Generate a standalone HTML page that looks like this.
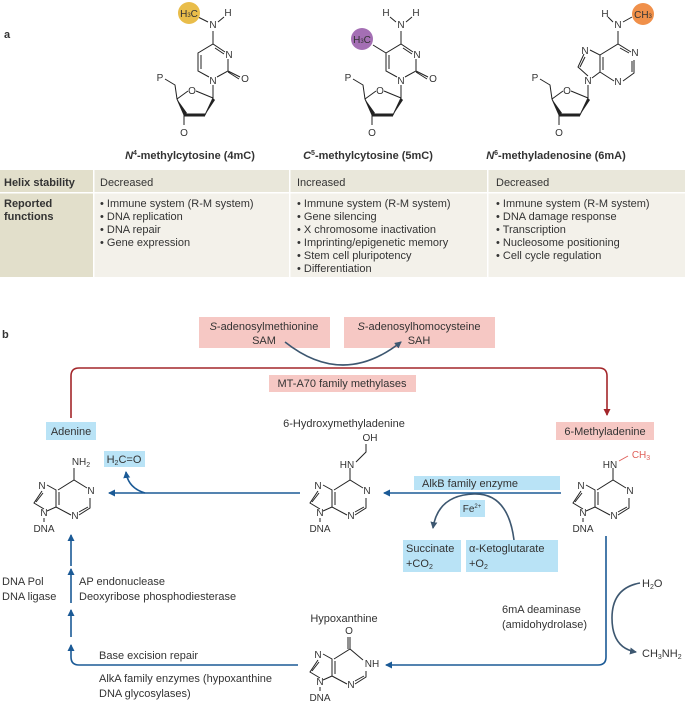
<!DOCTYPE html>
<html><head><meta charset="utf-8"><style>
html,body{margin:0;padding:0;background:#fff}
svg{display:block;font-family:"Liberation Sans",sans-serif}
.t{font-size:11px;fill:#333}
.s{font-size:10px;fill:#333}
.b{font-weight:bold}
.m{stroke:#222;stroke-width:1;fill:none}
</style></head><body>
<svg width="685" height="707" viewBox="0 0 685 707" xmlns="http://www.w3.org/2000/svg">
<defs>
<marker id="ab" markerWidth="8" markerHeight="8" refX="6" refY="4" orient="auto" markerUnits="userSpaceOnUse"><path d="M0,0.5 L7,4 L0,7.5 Z" fill="#1b5a96"/></marker>
<marker id="ar" markerWidth="8" markerHeight="8" refX="6" refY="4" orient="auto" markerUnits="userSpaceOnUse"><path d="M0,0.5 L7,4 L0,7.5 Z" fill="#a3262a"/></marker>
<marker id="ad" markerWidth="8" markerHeight="8" refX="6" refY="4" orient="auto" markerUnits="userSpaceOnUse"><path d="M0,0.5 L7,4 L0,7.5 Z" fill="#3d5770"/></marker>
<g id="sugar">
<path class="m" d="M0,0 L-17,-7 M-25,-7 L-36,1 L-29,17 L-8,17 L0,0 M-36,1 L-38,-13 L-48,-19 M-29,17 L-29,27"/>
<path d="M-36,1 L-29,17 L-26,15 Z M-8,17 L0,0 L2,2 Z" fill="#222"/>
<path d="M-29,17 L-8,17" stroke="#222" stroke-width="3"/>
<text x="-21" y="-4" class="s" text-anchor="middle">O</text>
<text x="-53" y="-17" class="s" text-anchor="middle">P</text>
<text x="-29" y="38" class="s" text-anchor="middle">O</text>
</g>
<g id="pur">
<path class="m" d="M0,-4 L-10,-10 L-2,-22 M3,-28 L12,-23 L12,-6 L3,-2 M12,-6 L27,2 M35,2 L46,-5 L46,-15 M43,-25 L30,-33 L14,-23 M30,-33 L30,-45 M0,5 L0,9 M-8,-11 L-1,-20 M15,-21 L15,-8 M35,-1 L44,-6"/>
<text x="0" y="3" class="s" text-anchor="middle">N</text>
<text x="-2" y="-24" class="s" text-anchor="middle">N</text>
<text x="31" y="6" class="s" text-anchor="middle">N</text>
<text x="47" y="-19" class="s" text-anchor="middle">N</text>
<text x="0" y="19" class="s" text-anchor="middle" font-size="9">DNA</text>
</g>
</defs>

<text x="4" y="38" class="t b" font-size="12">a</text>

<!-- 4mC -->
<g transform="translate(213,80)">
<path class="m" d="M4,-3 L15,-9 L15,-21 M12,-28 L0,-36 L-15,-27 L-15,-9 L-4,-3 M-12,-25 L-12,-11 M15,-9 L27,-3 M15,-8 L26,-1 M0,-36 L0,-49 M0,5 L0,18 M2,-32 L11,-26"/>
<text x="0" y="4" class="s" text-anchor="middle">N</text>
<text x="16" y="-22" class="s" text-anchor="middle">N</text>
<text x="32" y="2" class="s" text-anchor="middle">O</text>
<text x="0" y="-52" class="s" text-anchor="middle">N</text>
<path class="m" d="M5,-58 L11,-63 M-5,-58 L-15,-63"/>
<text x="15" y="-64" class="s" text-anchor="middle">H</text>
</g>
<circle cx="189" cy="13" r="11" fill="#e9bd4a"/>
<text x="189" y="17" class="s" text-anchor="middle" font-size="9">H<tspan font-size="6">3</tspan>C</text>
<use href="#sugar" x="213" y="98"/>
<text x="190" y="159" class="t b" text-anchor="middle" font-size="11.5"><tspan font-style="italic">N</tspan><tspan font-size="7" dy="-4">4</tspan><tspan dy="4">-methylcytosine (4mC)</tspan></text>

<!-- 5mC -->
<g transform="translate(401,80)">
<path class="m" d="M4,-3 L15,-9 L15,-21 M12,-28 L0,-36 L-15,-27 L-15,-9 L-4,-3 M-12,-25 L-12,-11 M15,-9 L27,-3 M15,-8 L26,-1 M0,-36 L0,-49 M-15,-27 L-28,-35 M0,5 L0,18 M2,-32 L11,-26"/>
<text x="0" y="4" class="s" text-anchor="middle">N</text>
<text x="16" y="-22" class="s" text-anchor="middle">N</text>
<text x="32" y="2" class="s" text-anchor="middle">O</text>
<text x="0" y="-52" class="s" text-anchor="middle">N</text>
<path class="m" d="M5,-58 L11,-63 M-5,-58 L-11,-63"/>
<text x="15" y="-64" class="s" text-anchor="middle">H</text>
<text x="-15" y="-64" class="s" text-anchor="middle">H</text>
</g>
<circle cx="362" cy="39" r="11" fill="#a46fb4"/>
<text x="362" y="43" class="s" text-anchor="middle" font-size="9">H<tspan font-size="6">3</tspan>C</text>
<use href="#sugar" x="401" y="98"/>
<text x="368" y="159" class="t b" text-anchor="middle" font-size="11.5"><tspan font-style="italic">C</tspan><tspan font-size="7" dy="-4">5</tspan><tspan dy="4">-methylcytosine (5mC)</tspan></text>

<!-- 6mA -->
<g transform="translate(588,80)">
<path class="m" d="M0,-4 L-10,-13 L-4,-26 M2,-30 L12,-25 L12,-8 L4,-2 M12,-8 L26,1 M35,1 L46,-7 L46,-20 M43,-28 L30,-36 L12,-25 M30,-36 L30,-49 M0,5 L0,18 M-8,-13 L-3,-23 M15,-23 L15,-10 M44,-8 L44,-19 M32,-32 L41,-27"/>
<text x="-3" y="-26" class="s" text-anchor="middle">N</text>
<text x="0" y="4" class="s" text-anchor="middle">N</text>
<text x="30" y="5" class="s" text-anchor="middle">N</text>
<text x="47" y="-24" class="s" text-anchor="middle">N</text>
<text x="30" y="-52" class="s" text-anchor="middle">N</text>
<path class="m" d="M25,-58 L20,-63 M35,-58 L44,-63"/>
<text x="17" y="-63" class="s" text-anchor="middle">H</text>
</g>
<circle cx="643" cy="14" r="11" fill="#f0904a"/>
<text x="643" y="18" class="s" text-anchor="middle" font-size="9">CH<tspan font-size="6">3</tspan></text>
<use href="#sugar" x="588" y="98"/>
<text x="556" y="159" class="t b" text-anchor="middle" font-size="11.5"><tspan font-style="italic">N</tspan><tspan font-size="7" dy="-4">6</tspan><tspan dy="4">-methyladenosine (6mA)</tspan></text>

<!-- Table -->
<rect x="0" y="170" width="685" height="107" fill="#f3f1ea"/>
<rect x="0" y="170" width="685" height="22" fill="#e9e7da"/>
<rect x="0" y="170" width="93" height="107" fill="#e2dfcb"/>
<rect x="0" y="192" width="685" height="1.5" fill="#fff"/>
<rect x="93" y="170" width="1.5" height="107" fill="#fff"/>
<rect x="289" y="170" width="1.5" height="107" fill="#fff"/>
<rect x="487" y="170" width="1.5" height="107" fill="#fff"/>
<g class="t" font-size="11.2">
<text x="4" y="186" class="b">Helix stability</text>
<text x="4" y="207" class="b">Reported</text>
<text x="4" y="220" class="b">functions</text>
<text x="100" y="186">Decreased</text>
<text x="297" y="186">Increased</text>
<text x="496" y="186">Decreased</text>
<text x="100" y="207">• Immune system (R-M system)</text>
<text x="100" y="220">• DNA replication</text>
<text x="100" y="233">• DNA repair</text>
<text x="100" y="246">• Gene expression</text>
<text x="297" y="207">• Immune system (R-M system)</text>
<text x="297" y="220">• Gene silencing</text>
<text x="297" y="233">• X chromosome inactivation</text>
<text x="297" y="246">• Imprinting/epigenetic memory</text>
<text x="297" y="259">• Stem cell pluripotency</text>
<text x="297" y="272">• Differentiation</text>
<text x="496" y="207">• Immune system (R-M system)</text>
<text x="496" y="220">• DNA damage response</text>
<text x="496" y="233">• Transcription</text>
<text x="496" y="246">• Nucleosome positioning</text>
<text x="496" y="259">• Cell cycle regulation</text>
</g>

<!-- Part b -->
<text x="2" y="338" class="t b" font-size="12">b</text>
<rect x="199" y="317" width="131" height="31" fill="#f6c8c4"/>
<rect x="344" y="317" width="151" height="31" fill="#f6c8c4"/>
<text x="264" y="330" class="t" text-anchor="middle"><tspan font-style="italic">S</tspan>-adenosylmethionine</text>
<text x="264" y="344" class="t" text-anchor="middle">SAM</text>
<text x="419" y="330" class="t" text-anchor="middle"><tspan font-style="italic">S</tspan>-adenosylhomocysteine</text>
<text x="419" y="344" class="t" text-anchor="middle">SAH</text>
<path d="M285,342 Q343,388 401,342" stroke="#3d5770" stroke-width="1.6" fill="none" marker-end="url(#ad)"/>

<path d="M71,418 L71,376 Q71,368 79,368 L599,368 Q607,368 607,376 L607,415" stroke="#a3262a" stroke-width="1.6" fill="none" marker-end="url(#ar)"/>
<rect x="269" y="375" width="147" height="17" fill="#f6c8c4"/>
<text x="342" y="387" class="t" text-anchor="middle">MT-A70 family methylases</text>

<rect x="46" y="422" width="50" height="18" fill="#b9e3f6"/>
<text x="71" y="435" class="t" text-anchor="middle">Adenine</text>
<rect x="556" y="422" width="98" height="18" fill="#f6c8c4"/>
<text x="605" y="435" class="t" text-anchor="middle">6-Methyladenine</text>
<text x="344" y="427" class="t" text-anchor="middle">6-Hydroxymethyladenine</text>

<use href="#pur" x="44" y="513"/>
<text x="81" y="465" class="s" text-anchor="middle">NH<tspan font-size="7" dy="2">2</tspan></text>
<rect x="104" y="451" width="41" height="16" fill="#b9e3f6"/>
<text x="124" y="463" class="t" text-anchor="middle">H<tspan font-size="7" dy="2">2</tspan><tspan dy="-2">C=O</tspan></text>
<use href="#pur" x="320" y="513"/>
<text x="347" y="468" class="s" text-anchor="middle">HN</text>
<path class="m" d="M356,462 L366,452 L366,444"/>
<text x="370" y="441" class="s" text-anchor="middle">OH</text>
<use href="#pur" x="583" y="513"/>
<text x="610" y="468" class="s" text-anchor="middle">HN</text>
<path d="M619,461 L628,456" stroke="#e0605a" fill="none"/>
<text x="641" y="458" class="s" text-anchor="middle" style="fill:#e0605a">CH<tspan font-size="7" dy="2">3</tspan></text>

<path d="M561,493 L384,493" stroke="#1b5a96" stroke-width="1.6" fill="none" marker-end="url(#ab)"/>
<path d="M300,493 L109,493" stroke="#1b5a96" stroke-width="1.6" fill="none" marker-end="url(#ab)"/>
<path d="M145,493 Q128,488 126,472" stroke="#1b5a96" stroke-width="1.6" fill="none" marker-end="url(#ab)"/>
<rect x="414" y="476" width="146" height="14" fill="#b9e3f6"/>
<text x="470" y="487" class="t" text-anchor="middle">AlkB family enzyme</text>
<rect x="460" y="500" width="25" height="17" fill="#b9e3f6"/>
<text x="472" y="512" class="s" text-anchor="middle">Fe<tspan font-size="6" dy="-4">2+</tspan></text>
<path d="M514,540 Q508,493 474,494 Q438,495 433,528" stroke="#3d5770" stroke-width="1.6" fill="none" marker-end="url(#ad)"/>
<rect x="403" y="540" width="58" height="32" fill="#b9e3f6"/>
<rect x="466" y="540" width="92" height="32" fill="#b9e3f6"/>
<text x="406" y="552" class="t">Succinate</text>
<text x="406" y="567" class="t">+CO<tspan font-size="7" dy="2">2</tspan></text>
<text x="469" y="552" class="t">α-Ketoglutarate</text>
<text x="469" y="567" class="t">+O<tspan font-size="7" dy="2">2</tspan></text>

<path d="M606,536 L606,657 Q606,665 598,665 L386,665" stroke="#1b5a96" stroke-width="1.6" fill="none" marker-end="url(#ab)"/>
<path d="M640,583 Q612,588 612,618 Q612,648 636,652" stroke="#3d5770" stroke-width="1.6" fill="none" marker-end="url(#ad)"/>
<text x="642" y="587" class="t">H<tspan font-size="7" dy="2">2</tspan><tspan dy="-2">O</tspan></text>
<text x="642" y="657" class="t">CH<tspan font-size="7" dy="2">3</tspan><tspan dy="-2">NH</tspan><tspan font-size="7" dy="2">2</tspan></text>
<text x="502" y="613" class="t">6mA deaminase</text>
<text x="502" y="628" class="t">(amidohydrolase)</text>

<text x="344" y="622" class="t" text-anchor="middle">Hypoxanthine</text>
<g transform="translate(320,682)">
<path class="m" d="M0,-4 L-10,-10 L-2,-22 M3,-28 L12,-23 L12,-6 L3,-2 M12,-6 L27,2 M35,2 L46,-5 L46,-11 M43,-22 L30,-33 L14,-23 M30,-33 L30,-45 M28,-33 L28,-45 M0,5 L0,9 M-8,-11 L-1,-20 M15,-21 L15,-8 M35,-1 L44,-6"/>
<text x="0" y="3" class="s" text-anchor="middle">N</text>
<text x="-2" y="-24" class="s" text-anchor="middle">N</text>
<text x="31" y="6" class="s" text-anchor="middle">N</text>
<text x="52" y="-15" class="s" text-anchor="middle">NH</text>
<text x="29" y="-48" class="s" text-anchor="middle">O</text>
<text x="0" y="19" class="s" text-anchor="middle" font-size="9">DNA</text>
</g>

<path d="M298,665 L79,665 Q71,665 71,657 L71,645" stroke="#1b5a96" stroke-width="1.6" fill="none" marker-end="url(#ab)"/>
<path d="M71,637 L71,610" stroke="#1b5a96" stroke-width="1.6" fill="none" marker-end="url(#ab)"/>
<path d="M71,603 L71,569" stroke="#1b5a96" stroke-width="1.6" fill="none" marker-end="url(#ab)"/>
<path d="M71,566 L71,535" stroke="#1b5a96" stroke-width="1.6" fill="none" marker-end="url(#ab)"/>
<text x="2" y="585" class="t">DNA Pol</text>
<text x="2" y="600" class="t">DNA ligase</text>
<text x="79" y="585" class="t">AP endonuclease</text>
<text x="79" y="600" class="t">Deoxyribose phosphodiesterase</text>
<text x="99" y="659" class="t">Base excision repair</text>
<text x="99" y="682" class="t">AlkA family enzymes (hypoxanthine</text>
<text x="99" y="697" class="t">DNA glycosylases)</text>
</svg>
</body></html>
